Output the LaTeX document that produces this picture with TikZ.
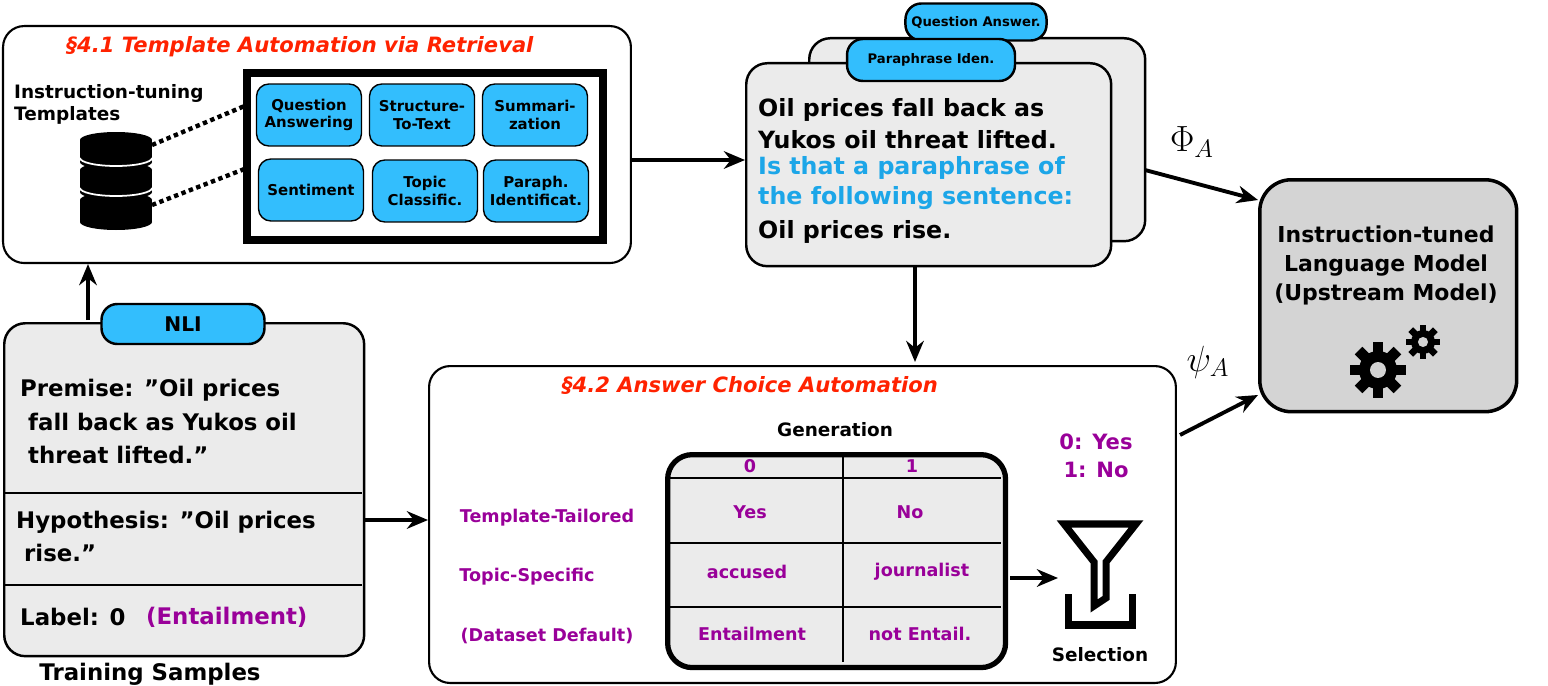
\documentclass[tikz,border=0pt]{standalone}
\usepackage{fontspec}
\setmainfont{DejaVu Sans}
\usetikzlibrary{arrows.meta}
\newcommand{\dq}{\symbol{34}}
\definecolor{tabblue}{RGB}{51,190,253}
\definecolor{cardgray}{RGB}{235,235,235}
\definecolor{modelgray}{RGB}{212,212,212}
\definecolor{purp}{RGB}{153,0,153}
\definecolor{titlered}{RGB}{255,34,0}
\definecolor{qblue}{RGB}{28,166,232}
\begin{document}
\begin{tikzpicture}[x=0.02cm,y=-0.02cm,
  box/.style={draw,line width=1.2pt,rounded corners=12pt},
  card/.style={draw,line width=1.4pt,rounded corners=12pt,fill=cardgray},
  tpl/.style={draw,line width=0.8pt,rounded corners=7pt,fill=tabblue,align=center,font=\bfseries\fontsize{8.5}{10}\selectfont,minimum width=2.1cm,minimum height=1.24cm,inner sep=1pt},
  tab/.style={draw,line width=1.4pt,rounded corners=9pt,fill=tabblue,font=\bfseries\fontsize{7.5}{8}\selectfont},
  big/.style={font=\bfseries\fontsize{13.5}{15}\selectfont,anchor=west},
  mid/.style={font=\bfseries\fontsize{10.5}{12.5}\selectfont},
  pl/.style={font=\bfseries\fontsize{10}{11}\selectfont,text=purp},
  ttl/.style={font=\bfseries\itshape\fontsize{12}{13}\selectfont,text=titlered},
  arr/.style={-{Stealth[length=12pt,width=10pt]},line width=2.2pt}]
\useasboundingbox (0,0) rectangle (1548,686);

% template automation box
\node[box,minimum width=12.56cm,minimum height=4.74cm,anchor=north west] (tbox) at (2,25) {};
\node[ttl] at (300,47) {§4.1 Template Automation via Retrieval};
\node[mid,align=left,anchor=north west] (itt) at (8,78) {Instruction-tuning\\Templates};
% database
\foreach \y in {140,170,200}{
  \fill (80,\y) rectangle (152,\y+22);
  \fill (116,\y+22) ellipse [x radius=36,y radius=8];
  \fill (116,\y) ellipse [x radius=36,y radius=8];
}
\draw[white,line width=1pt] (80,158) arc[start angle=180,end angle=360,x radius=36,y radius=-8];
\draw[white,line width=1pt] (80,188) arc[start angle=180,end angle=360,x radius=36,y radius=-8];
\coordinate (db1) at (152,145);
\coordinate (db2) at (152,205);
\draw[line width=5pt] (247,73) rectangle (603,240);
\coordinate (tl1) at (247,105);
\coordinate (tl2) at (247,168);
\draw[dotted,line width=2.5pt] (db1) -- (tl1);
\draw[dotted,line width=2.5pt] (db2) -- (tl2);
\node[tpl] (qa) at (309,115) {Question\\Answering};
\node[tpl] (st) at (422,115) {Structure-\\To-Text};
\node[tpl] (su) at (535,115) {Summari-\\zation};
\node[tpl] (se) at (311,190) {Sentiment};
\node[tpl] (tc) at (425,191) {Topic\\Classific.};
\node[tpl] (pi) at (536,191) {Paraph.\\Identificat.};

% stacked cards
\node[card,minimum width=6.72cm,minimum height=4.06cm,anchor=north west] (back) at (808,37) {};
\node[tab,minimum width=2.56cm,minimum height=0.74cm] (qtab) at (976,22) {Question Answer.};
\node[card,minimum width=7.3cm,minimum height=4.06cm,anchor=north west] (front) at (745,62) {};
\node[tab,minimum width=3.36cm,minimum height=0.84cm] (ptab) at (931,60) {Paraphrase Iden.};
\node[big] at (752,110) {Oil prices fall back as};
\node[big] at (752,140) {Yukos oil threat lifted.};
\node[big,text=qblue] at (752,168) {Is that a paraphrase of};
\node[big,text=qblue] at (752,198) {the following sentence:};
\node[big] at (752,232) {Oil prices rise.};

% model
\node[draw,line width=2pt,rounded corners=18pt,fill=modelgray,minimum width=5.14cm,minimum height=4.64cm,anchor=north west] (lm) at (1258,178) {};
\node[font=\bfseries\fontsize{12.5}{16.5}\selectfont,align=center] at (1386,265) {Instruction-tuned\\Language Model\\(Upstream Model)};
\foreach \cx/\cy/\r in {1378/370/19,1423/342/12}{
  \fill (\cx,\cy) circle[radius=\r];
  \foreach \a in {0,45,...,315}{
    \fill[rotate around={\a:(\cx,\cy)}] (\cx-0.28*\r,\cy-1.45*\r) rectangle (\cx+0.28*\r,\cy);
  }
  \fill[modelgray] (\cx,\cy) circle[radius=0.42*\r];
}

% arrows top
\draw[arr] (tbox.east |- 0,160) -- (front.west |- 0,160);
\draw[arr] (1145,170) -- (lm.west |- 0,200);
\node[font=\fontsize{20}{22}\selectfont] at (1192,142) {$\Phi_A$};
\draw[arr] (front.south -| 915,0) -- (915,362);

% answer box
\node[box,minimum width=14.94cm,minimum height=6.34cm,anchor=north west] (abox) at (428,365) {};
\node[ttl] at (750,385) {§4.2 Answer Choice Automation};
\draw[arr] (1180,435) -- (lm.west |- 0,395);
\node[font=\fontsize{20}{22}\selectfont] at (1208,362) {$\psi_A$};
\node[mid] at (835,430) {Generation};
\node[draw,line width=3pt,rounded corners=14pt,fill=cardgray,minimum width=6.76cm,minimum height=4.26cm,anchor=north west] (tab) at (665,452) {};
\draw[line width=0.8pt] (843,455) -- (843,662);
\draw[line width=1.2pt] (667,478) -- (1001,478);
\draw[line width=1pt] (667,543) -- (1001,543);
\draw[line width=1pt] (667,607) -- (1001,607);
\node[pl] at (750,466) {0};
\node[pl] at (912,466) {1};
\node[pl] at (750,512) {Yes};
\node[pl] at (910,512) {No};
\node[pl] at (747,572) {accused};
\node[pl] at (922,572) {journalist};
\node[pl] at (752,634) {Entailment};
\node[pl] at (920,634) {not Entail.};
\node[pl] at (547,518) {Template-Tailored};
\node[pl] at (527,577) {Topic-Specific};
\node[pl] at (547,636) {(Dataset Default)};
\node[pl,font=\bfseries\fontsize{12}{16}\selectfont,align=center] at (1096,456) {0: Yes\\1: No};
% filter
\coordinate (sel) at (1058,578);
\draw[arr] (1010,578) -- (sel);
\draw[line width=4pt,line join=miter] (1064,524) -- (1136,524) -- (1106,562) -- (1106,598) -- (1094,606) -- (1094,562) -- cycle;
\draw[line width=4pt] (1068,594) -- (1068,625) -- (1132,625) -- (1132,594);
\node[mid] at (1100,655) {Selection};

% training sample card
\node[card,minimum width=7.2cm,minimum height=6.66cm,anchor=north west] (ts) at (3,322) {};
\draw[line width=1.2pt] (4,493) -- (362,493);
\draw[line width=1.2pt] (4,585) -- (362,585);
\node[tab,font=\bfseries\fontsize{11.5}{13}\selectfont,minimum width=3.26cm,minimum height=0.8cm] (nli) at (183,324) {NLI};
\tikzset{tsx/.style={big,font=\bfseries\fontsize{13}{14}\selectfont}}
\node[tsx] at (14,390) {Premise: \dq Oil prices};
\node[tsx] at (14,422) {\ fall back as Yukos oil};
\node[tsx] at (14,455) {\ threat lifted.\dq};
\node[tsx] at (10,522) {Hypothesis: \dq Oil prices};
\node[tsx] at (10,553) {\ rise.\dq};
\node[tsx] at (14,617) {Label: 0};
\node[tsx,text=purp] at (140,617) {(Entailment)};
\node[tsx,anchor=center] at (150,674) {Training Samples};
\draw[arr] (88,320) -- (tbox.south -| 88,0);
\draw[arr] (ts.east |- 0,520) -- (abox.west |- 0,520);
\end{tikzpicture}
\end{document}
